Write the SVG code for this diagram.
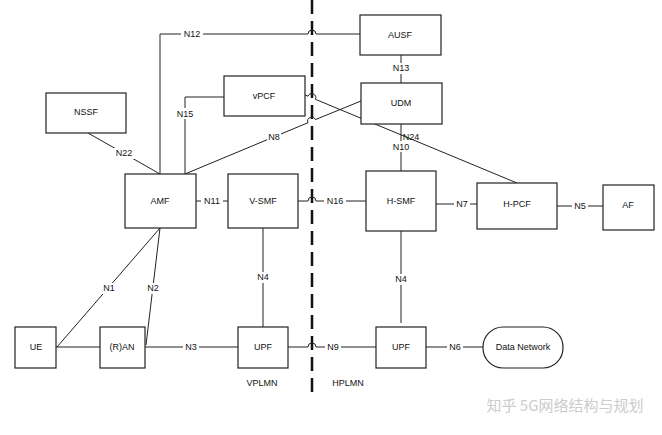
<svg xmlns="http://www.w3.org/2000/svg" width="662" height="435" viewBox="0 0 662 435">
<style>
rect,.dn{fill:#fff;stroke:#222;stroke-width:1.2}
.c path,.c line{fill:none;stroke:#222;stroke-width:1}
text{font-family:"Liberation Sans",Arial,sans-serif;font-size:9px;fill:#111;text-anchor:middle;dominant-baseline:central}
.lb{fill:#fff;stroke:none}
</style>
<rect x="0" y="0" width="662" height="435" style="stroke:none"/>
<line x1="312" y1="0" x2="312" y2="395" stroke="#111" stroke-width="2.5" stroke-dasharray="14,7"/>
<g class="c" id="connectors">
<path d="M160 174V34H308a4 4 0 0 1 8 0H360"/>
<path d="M185 174V97H224"/>
<path d="M185 174L308 122.7a4 4 0 0 1 7.4-3.1L361 101"/>
<path d="M305 95L308 96.2a4 4 0 0 1 7.4 3.1L517 183"/>
<path d="M401 55V83"/>
<path d="M401 124V171"/>
<path d="M88 133L160 174"/>
<path d="M196 201H228"/>
<path d="M298 201H308a4 4 0 0 1 8 0H366"/>
<path d="M436 204H477"/>
<path d="M557 206H603"/>
<path d="M263 228V327"/>
<path d="M401 231V323"/>
<path d="M57 347L160 228"/>
<path d="M146 345L160 228"/>
<path d="M56 347H100"/>
<path d="M145 347H238"/>
<path d="M288 347H308a4 4 0 0 1 8 0H376"/>
<path d="M426 347H483"/>
</g>
<g id="labels">
<rect class="lb" x="181" y="29" width="22" height="11"/><text x="192" y="34">N12</text>
<rect class="lb" x="391" y="63" width="20" height="11"/><text x="401" y="68">N13</text>
<rect class="lb" x="176" y="108" width="20" height="11"/><text x="185" y="114">N15</text>
<rect class="lb" x="267" y="132" width="14" height="11"/><text x="274" y="137">N8</text>
<text x="411" y="137">N24</text>
<rect class="lb" x="392" y="141" width="18" height="11"/><text x="401" y="147">N10</text>
<rect class="lb" x="113" y="148" width="22" height="11"/><text x="124" y="153">N22</text>
<rect class="lb" x="201" y="196" width="22" height="11"/><text x="212" y="201">N11</text>
<rect class="lb" x="324" y="196" width="22" height="11"/><text x="335" y="201">N16</text>
<rect class="lb" x="454" y="199" width="16" height="11"/><text x="462" y="204">N7</text>
<rect class="lb" x="572" y="201" width="16" height="11"/><text x="580" y="206">N5</text>
<rect class="lb" x="255" y="272" width="16" height="11"/><text x="263" y="277">N4</text>
<rect class="lb" x="393" y="274" width="16" height="11"/><text x="401" y="279">N4</text>
<rect class="lb" x="101" y="283" width="16" height="11"/><text x="109" y="288">N1</text>
<rect class="lb" x="145" y="283" width="16" height="11"/><text x="153" y="288">N2</text>
<rect class="lb" x="183" y="342" width="16" height="11"/><text x="191" y="347">N3</text>
<rect class="lb" x="325" y="342" width="16" height="11"/><text x="333" y="347">N9</text>
<rect class="lb" x="447" y="342" width="16" height="11"/><text x="455" y="347">N6</text>
<text x="262" y="383">VPLMN</text>
<text x="348" y="383">HPLMN</text>
</g>
<g id="AUSF"><rect x="360" y="15" width="81" height="40"/><text x="400" y="35">AUSF</text></g>
<g id="UDM"><rect x="361" y="83" width="81" height="41"/><text x="401" y="103">UDM</text></g>
<g id="vPCF"><rect x="224" y="76" width="81" height="40"/><text x="264" y="96">vPCF</text></g>
<g id="NSSF"><rect x="46" y="93" width="80" height="40"/><text x="86" y="112">NSSF</text></g>
<g id="AMF"><rect x="125" y="174" width="71" height="54"/><text x="160" y="201">AMF</text></g>
<g id="V-SMF"><rect x="228" y="174" width="70" height="54"/><text x="263" y="201">V-SMF</text></g>
<g id="H-SMF"><rect x="366" y="171" width="70" height="60"/><text x="401" y="201">H-SMF</text></g>
<g id="H-PCF"><rect x="477" y="183" width="80" height="46"/><text x="517" y="204">H-PCF</text></g>
<g id="AF"><rect x="603" y="185" width="51" height="45"/><text x="628" y="205">AF</text></g>
<g id="UE"><rect x="15" y="327" width="41" height="41"/><text x="36" y="347">UE</text></g>
<g id="RAN"><rect x="100" y="327" width="45" height="41"/><text x="122" y="347">(R)AN</text></g>
<g id="UPF-V"><rect x="238" y="327" width="50" height="41"/><text x="263" y="347">UPF</text></g>
<g id="UPF-H"><rect x="376" y="327" width="50" height="41"/><text x="401" y="347">UPF</text></g>
<g id="DN"><rect class="dn" x="483" y="327" width="80" height="41" rx="20" ry="20"/><text x="523" y="347">Data Network</text></g>
<text x="565" y="404" style="font-family:'Noto Sans CJK SC',sans-serif;font-size:15px;fill:#ccc">知乎 5G网络结构与规划</text>
</svg>
